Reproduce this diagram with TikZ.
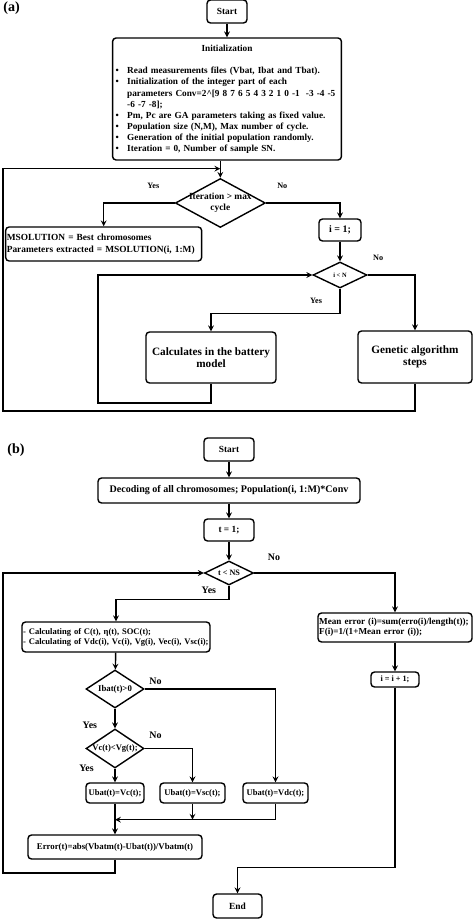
\documentclass[tikz,border=0pt]{standalone}
\usepackage{fontspec}
\setmainfont{Liberation Serif}
\usepackage{tikz}
\usetikzlibrary{shapes.geometric, arrows, positioning, calc}

\newcommand\flowfont[2]{\fontsize{#1}{#2}\selectfont\bfseries}
\newcommand\gaitem{\par\noindent\hangindent=10pt\hangafter=1\makebox[10pt][l]{\textbullet}}

\tikzstyle{arrow} = [line width=1.2pt,->,>=stealth]
\tikzstyle{startstop} = [rectangle, rounded corners=3pt, minimum width=1.5cm, minimum height=0.69cm, text centered, draw=black, line width=1.2pt, font={\flowfont{8}{9.6}}]
\tikzstyle{process} = [rectangle, rounded corners=3pt, inner sep=1pt, text centered, draw=black, line width=1.2pt]
\tikzstyle{decision} = [diamond, inner sep=-8pt, text centered, draw=black, line width=1.2pt]
\tikzstyle{yesno} = [font={\flowfont{7}{8}}]
\tikzstyle{yesnoB} = [font={\flowfont{8.5}{9}}]
\tikzstyle{panel} = [font={\flowfont{12}{13}}]

\begin{document}
\begin{tikzpicture}[node distance=1.5cm]
\useasboundingbox (0,0) rectangle (14.22,-27.57);
%----------------------------------------------------------------------------
% (a) Placement of main GA nodes
\node (labelA) [panel] at (0.35,-0.25) {(a)};
\node (startA) [startstop, minimum width=1.2cm] at (6.81,-0.345) {Start};

\node (initBox) [process, below of=startA, node distance=2.625cm, minimum height=3.66cm, inner xsep=2.5pt, text width=6.69cm, align=left, font={\flowfont{7.9}{9.45}}] {%
{\centering Initialization\par}\vspace{10pt}
\gaitem Read measurements files (Vbat, Ibat and Tbat).
\gaitem Initialization of the integer part of each\newline
parameters Conv=2\textasciicircum[9 8 7 6 5 4 3 2 1 0 -1\ \ -3 -4 -5\newline
-6 -7 -8];
\gaitem Pm, Pc are GA parameters taking as fixed value.
\gaitem Population size (N,M), Max number of cycle.
\gaitem Generation of the initial population randomly.
\gaitem Iteration = 0, Number of sample SN.};

% iteration decision block
\node (iterDec) [decision, below of=initBox, node distance=3.12cm, xshift=-0.2cm, minimum width=2.7cm, minimum height=1.47cm, align=center, font={\flowfont{8}{9.5}}] {Iteration > max\\cycle};
\node (msolBox) [process, below of=iterDec, node distance=1.23cm, xshift=-3.5cm, minimum height=1.02cm, text width=5.81cm, align=left, font={\flowfont{8}{10.2}}] {MSOLUTION = Best chromosomes\\Parameters extracted = MSOLUTION(i, 1:M)};
\node (iOne) [process, below of=iterDec, node distance=0.81cm, xshift=3.59cm, minimum width=1.26cm, minimum height=0.66cm, font={\flowfont{8.5}{9}}] {i = 1;};

% population loop
\node (iltN) [decision, below of=iOne, node distance=1.35cm, minimum width=1.62cm, minimum height=0.78cm, font={\flowfont{5.5}{6}}] {i < N};
\node (calcBox) [process, below of=iltN, node distance=2.475cm, xshift=-3.87cm, minimum width=3.9cm, minimum height=1.53cm, align=center, font={\flowfont{9.6}{10.2}}] {Calculates in the battery\\model};
\node (genBox) [process, below of=iltN, node distance=2.46cm, xshift=2.25cm, minimum width=3.42cm, minimum height=1.56cm, align=center, font={\flowfont{9.6}{10.2}}] {Genetic algorithm\\steps};

%----------------------------------------------------------------------------
% (b) Placement of battery model nodes
\node (labelB) [panel] at (0.48,-13.5) {(b)};
\node (startB) [startstop, below of=startA, node distance=13.14cm, xshift=0.06cm] {Start};
\node (decodeBox) [process, below of=startB, node distance=1.23cm, minimum width=7.86cm, minimum height=0.75cm, font={\flowfont{8.6}{9}}] {Decoding of all chromosomes; Population(i, 1:M)*Conv};
\node (tOne) [process, below of=decodeBox, node distance=1.185cm, minimum width=1.5cm, minimum height=0.66cm, font={\flowfont{8}{9}}] {t = 1;};

% time loop
\node (tDec) [decision, below of=tOne, node distance=1.29cm, minimum width=1.47cm, minimum height=0.72cm, font={\flowfont{7}{8}}] {t < NS};
\node (calcTBox) [process, below of=tDec, node distance=1.92cm, xshift=-3.39cm, minimum height=0.9cm, text width=5.57cm, align=left, font={\flowfont{7.3}{8.5}}] {- Calculating of C(t), η(t), SOC(t);\\- Calculating of Vdc(i), Vc(i), Vg(i), Vec(i), Vsc(i);};
\node (meanBox) [process, below of=tDec, node distance=1.635cm, xshift=4.98cm, minimum height=0.87cm, text width=4.55cm, align=left, font={\flowfont{7.8}{8.5}}] {Mean error (i)=sum(erro(i)/length(t));\\F(i)=1/(1+Mean error (i));};
\node (iInc) [process, below of=meanBox, node distance=1.56cm, minimum width=1.44cm, minimum height=0.45cm, font={\flowfont{7}{8}}] {i = i + 1;};

\node (ibatDec) [decision, below of=calcTBox, node distance=1.56cm, xshift=-0.03cm, minimum width=1.74cm, minimum height=1.14cm, font={\flowfont{7.5}{8}}] {Ibat(t)>0};
\node (vcDec) [decision, below of=ibatDec, node distance=1.785cm, minimum width=1.74cm, minimum height=1.17cm, font={\flowfont{7.3}{8}}] {Vc(t)<Vg(t);};

\node (ubatVc) [process, below of=vcDec, node distance=1.335cm, minimum width=1.74cm, minimum height=0.6cm, font={\flowfont{7.3}{8}}] {Ubat(t)=Vc(t);};
\node (ubatVsc) [process, right of=ubatVc, node distance=2.325cm, minimum width=1.95cm, minimum height=0.6cm, font={\flowfont{7.3}{8}}] {Ubat(t)=Vsc(t);};
\node (ubatVdc) [process, right of=ubatVsc, node distance=2.49cm, minimum width=1.95cm, minimum height=0.6cm, font={\flowfont{7.3}{8}}] {Ubat(t)=Vdc(t);};

\node (errBox) [process, below of=ubatVc, node distance=1.62cm, minimum width=5.22cm, minimum height=0.72cm, font={\flowfont{7.5}{8}}] {Error(t)=abs(Vbatm(t)-Ubat(t))/Vbatm(t)};
\node (endB) [startstop, below of=tDec, node distance=9.99cm, xshift=0.255cm, minimum width=1.47cm, minimum height=0.72cm] {End};

%----------------------------------------------------------------------------
% Loop coordinates
\coordinate (joinA) at ([yshift=-0.24cm]initBox.south -| iterDec.north);
\coordinate (loopCalc) at (2.94,-12.09);
\coordinate (loopGen) at (0.09,-12.33);
\coordinate (mergeU) at ([yshift=-0.48cm]ubatVc.south);
\coordinate (loopErr) at (0.09,-26.19);
\coordinate (joinEnd) at ([yshift=0.78cm]endB.north);

%----------------------------------------------------------------------------
% Drawing of Lines of (a)
\draw [arrow] (startA) -- (initBox);
\draw [arrow] (initBox.south -| iterDec.north) -- (iterDec);
\draw [arrow] (iterDec.west) -| node[yesno, pos=0.15, above=0.3cm] {Yes} (msolBox.north);
\draw [arrow] (iterDec.east) -| node[yesno, pos=0.11, above=0.3cm] {No} (iOne.north);
\draw [arrow] (iOne) -- (iltN);
\draw [arrow] (iltN.east) -| node[yesno, pos=0.11, above=0.3cm] {No} (genBox.north);
\draw [arrow] (iltN.south) -- node[yesno, left=0.4cm] {Yes} ++(0,-0.75) -| (calcBox.north);
\draw [arrow] (calcBox.south) |- (loopCalc) |- (iltN.west);
\draw [arrow] (genBox.south) |- (loopGen) |- (joinA);

%----------------------------------------------------------------------------
% Drawing of Lines of (b)
\draw [arrow] (startB) -- (decodeBox);
\draw [arrow] (decodeBox) -- (tOne);
\draw [arrow] (tOne) -- (tDec);
\draw [arrow] (tDec.east) -| node[yesnoB, pos=0.07, above=0.22cm] {No} (meanBox.north);
\draw [arrow] (tDec.south) -- node[yesnoB, pos=0.3, left=0.25cm] {Yes} ++(0,-0.42) -| (calcTBox.north);
\draw [arrow] (calcTBox) -- (ibatDec);
\draw [arrow] (ibatDec.east) -| node[yesnoB, pos=0, anchor=south west] {No} (ubatVdc.north);
\draw [arrow] (ibatDec) -- node[yesnoB, pos=0.85, left=0.4cm] {Yes} (vcDec);
\draw [arrow] (vcDec.east) -| node[yesnoB, pos=0, anchor=south west, yshift=0.15cm] {No} (ubatVsc.north);
\draw [arrow] (vcDec) -- node[yesnoB, pos=0, left=0.5cm] {Yes} (ubatVc);
\draw [arrow] (ubatVdc.south) |- (mergeU);
\draw [arrow] (ubatVsc.south) -- (ubatVsc.south |- mergeU);
\draw [arrow] (ubatVc) -- (errBox);
\draw [arrow] (errBox.south) |- (loopErr) |- (tDec.west);
\draw [arrow] (meanBox) -- (iInc);
\draw [arrow] (iInc.south) |- (joinEnd) -- (endB.north);

\end{tikzpicture}
\end{document}
